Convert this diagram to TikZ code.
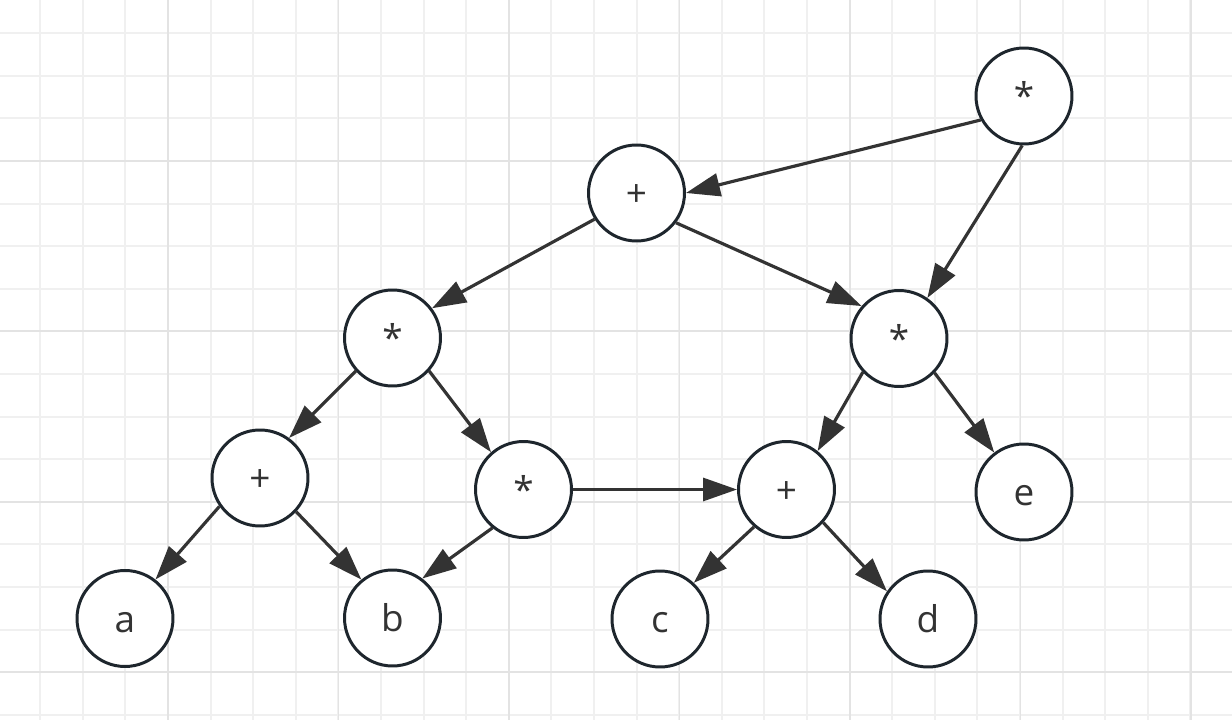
\documentclass[tikz,border=0pt]{standalone}
\usepackage{fontspec}
\setmainfont{Open Sans}
\usepackage{tikz}
\usetikzlibrary{arrows.meta}
\definecolor{gridminor}{HTML}{F0F0F0}
\definecolor{gridmajor}{HTML}{E3E3E3}
\definecolor{ringcol}{HTML}{1E262D}
\definecolor{edgecol}{HTML}{333333}

\begin{document}
\begin{tikzpicture}[
  x=0.02cm, y=-0.02cm,
  font=\fontsize{21}{25}\selectfont,
  vert/.style={draw=ringcol, circle, line width=1.7pt, fill=white,
               minimum size=1.92cm, inner sep=0pt, text=edgecol,
               text height=0.54cm, text depth=0pt},
  arr/.style={-{Triangle[length=0.68cm, width=0.46cm]}, line width=1.8pt,
              draw=edgecol},
  thingrid/.style={draw=gridminor, line width=1.1pt},
  thickgrid/.style={draw=gridmajor, line width=1.1pt}
]
\fill[white] (0,0) rectangle (1232,720);
\useasboundingbox (0,0) rectangle (1232,720);
\foreach \i in {0,...,27} \draw[thingrid] ({40.2+42.6*\i},0) -- ({40.2+42.6*\i},720);
\foreach \i in {0,...,16} \draw[thingrid] (0,{33.2+42.6*\i}) -- (1232,{33.2+42.6*\i});
\foreach \i in {0,...,6} \draw[thickgrid] ({168+170.5*\i},0) -- ({168+170.5*\i},720);
\foreach \i in {0,...,3} \draw[thickgrid] (0,{161+170.3*\i}) -- (1232,{161+170.3*\i});

\node[vert] (mroot) at (1024,96)      {*};
\node[vert] (add1)  at (636.5,193)    {+};
\node[vert] (mul1)  at (392.5,338)    {*};
\node[vert] (mul2)  at (899,338.5)    {*};
\node[vert] (add2)  at (260,478)      {+};
\node[vert] (mul3)  at (523.5,489.5)  {*};
\node[vert] (add3)  at (786.5,489.5)  {+};
\node[vert] (ve)    at (1024,492)     {e};
\node[vert] (va)    at (125,618.5)    {a};
\node[vert] (vb)    at (392.5,618)    {b};
\node[vert] (vc)    at (660,619)      {c};
\node[vert] (vd)    at (928,619)      {d};

\draw[arr] (mroot.209) -- (add1.east);
\draw[arr] (mroot.268) -- (mul2.55);
\draw[arr] (add1.212) -- (mul1.37);
\draw[arr] (add1.323) -- (mul2.139);
\draw[arr] (mul1.222) -- (add2.54);
\draw[arr] (mul1.318) -- (mul3.131);
\draw[arr] (add2.215) -- (va.52);
\draw[arr] (add2.317) -- (vb.129);
\draw[arr] (mul3.231) -- (vb.53);
\draw[arr] (mul3.east) -- (add3.west);
\draw[arr] (mul2.223) -- (add3.51);
\draw[arr] (mul2.316) -- (ve.127);
\draw[arr] (add3.229) -- (vc.47);
\draw[arr] (add3.318) -- (vd.146);
\end{tikzpicture}
\end{document}
